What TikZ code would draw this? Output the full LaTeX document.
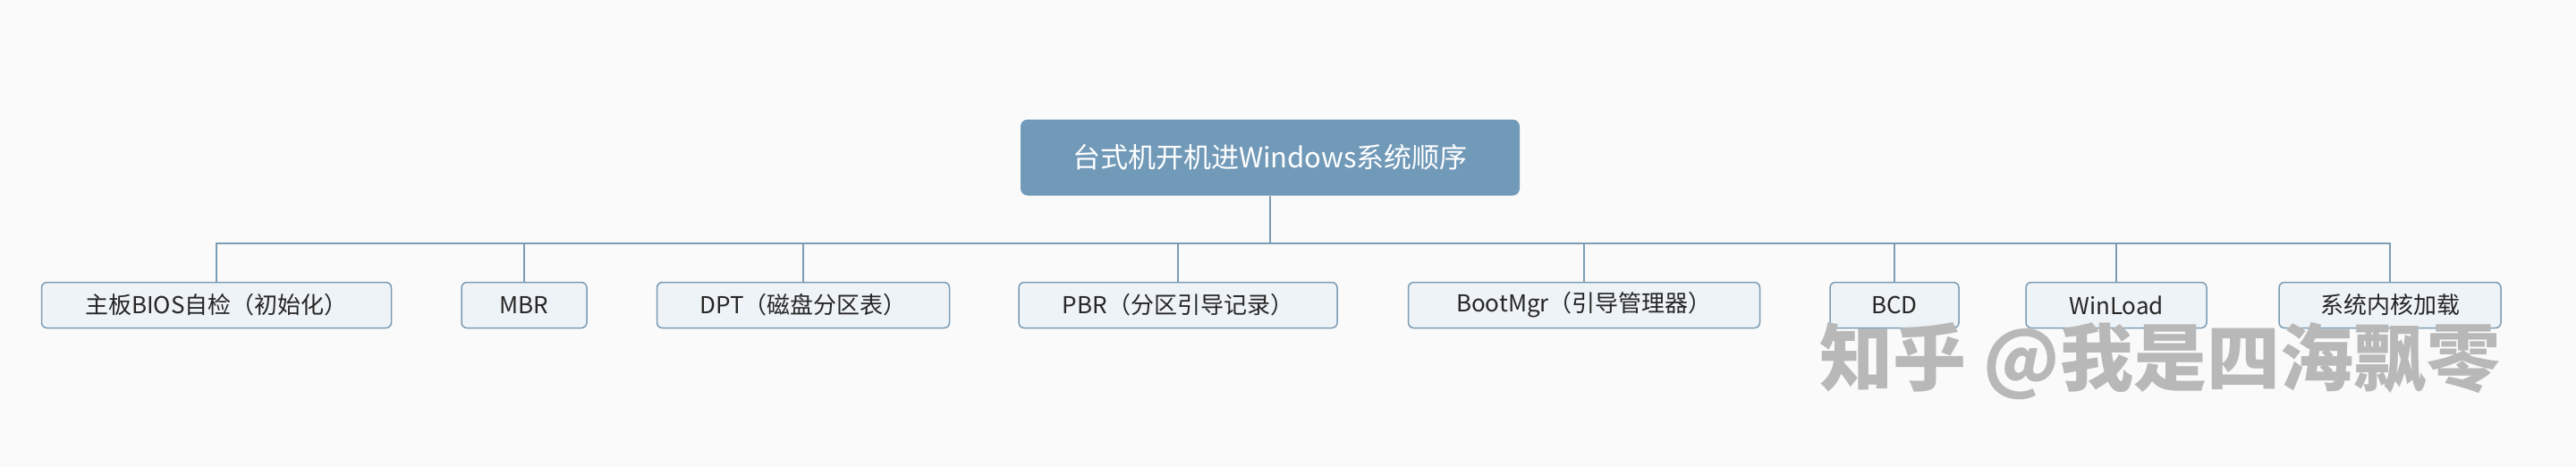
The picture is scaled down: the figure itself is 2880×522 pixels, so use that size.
\documentclass[tikz,border=0pt]{standalone}
\usepackage{fontspec}
\setmainfont{Noto Sans CJK SC}
\definecolor{bg}{HTML}{FAFAFA}
\definecolor{rootc}{HTML}{7199B8}
\definecolor{linec}{HTML}{7C9CB4}
\definecolor{childc}{HTML}{EEF3F7}
\begin{document}
\begin{tikzpicture}[x=1pt,y=-1pt,
  rootbox/.style={draw=none,fill=rootc,rounded corners=8pt,minimum width=558pt,minimum height=85pt,text=white,font=\fontsize{31}{34}\selectfont,inner sep=0pt},
  childbox/.style={draw=linec,line width=1.5pt,fill=childc,rounded corners=6pt,minimum height=51pt,font=\fontsize{26}{30}\selectfont,inner sep=0pt,text=black!85},
  conn/.style={draw=linec,line width=1.6pt}]
\fill[bg] (0,0) rectangle (2880,522);
\useasboundingbox (0,0) rectangle (2880,522);
\node[rootbox] (r) at (1420,176) {台式机开机进Windows系统顺序};
\node[childbox,minimum width=391pt] (c1) at (242,341) {主板BIOS自检（初始化）};
\node[childbox,minimum width=140pt] (c2) at (586,341) {MBR};
\node[childbox,minimum width=327pt] (c3) at (898,341) {DPT（磁盘分区表）};
\node[childbox,minimum width=356pt] (c4) at (1317,341) {PBR（分区引导记录）};
\node[childbox,minimum width=393pt] (c5) at (1771,341) {BootMgr（引导管理器）};
\node[childbox,minimum width=144pt] (c6) at (2118,341) {BCD};
\node[childbox,minimum width=202pt] (c7) at (2366,341) {WinLoad};
\node[childbox,minimum width=248pt] (c8) at (2672,341) {系统内核加载};
\coordinate (bus) at (1420,272);
\draw[conn] (r.south) -- (bus);
\draw[conn] (c1.north) |- (bus) -| (c8.north);
\foreach \c in {c2,c3,c4,c5,c6,c7}{\draw[conn] (\c.north) -- (\c.north |- bus);}
\node[text=black!28,font=\fontsize{82}{84}\selectfont\bfseries] (wm) at (2415,404) {知乎 @我是四海飘零};
\end{tikzpicture}
\end{document}
